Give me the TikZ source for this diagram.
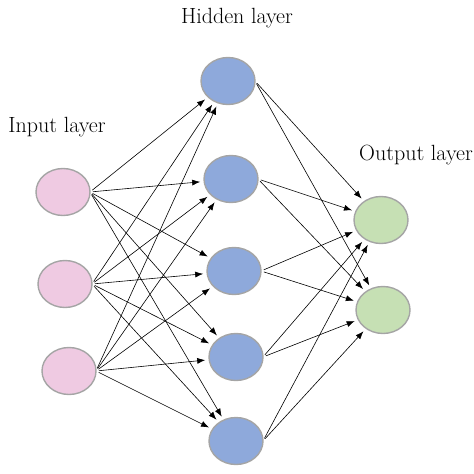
\documentclass[tikz,border=0pt]{standalone}
\usepackage{amsmath}
\usepackage{tkz-graph}
\usetikzlibrary{shapes.geometric,arrows.meta}

\definecolor{inpink}{RGB}{239,202,226}
\definecolor{hidblue}{RGB}{142,169,219}
\definecolor{outgreen}{RGB}{198,224,180}
\definecolor{rimgray}{RGB}{165,165,165}

\begin{document}
\begin{tikzpicture}[x=1pt,y=-1pt]
                \useasboundingbox (0,0) rectangle (474,474);
                \tikzset{LayerStyle/.style={font=\fontsize{22}{26}\selectfont}}
                \tikzset{EdgeStyle/.style={-{Latex[length=8pt,width=6pt]},line width=0.6pt,shorten <=3pt,shorten >=4pt}}
                \tikzset{VertexStyle/.style={shape=ellipse,draw=rimgray,line width=1.4pt,
                    minimum width=54pt,minimum height=47pt,inner sep=0pt}}
                % input layer
                \tikzset{VertexStyle/.append style={fill=inpink}}
                \Vertex[x=63, y=192, NoLabel]{I1}
                \Vertex[x=65, y=284, NoLabel]{I2}
                \Vertex[x=69, y=371, NoLabel]{I3}
                % hidden layer
                \tikzset{VertexStyle/.append style={fill=hidblue}}
                \Vertex[x=228, y=81, NoLabel]{H1}
                \Vertex[x=231, y=179, NoLabel]{H2}
                \Vertex[x=234, y=271, NoLabel]{H3}
                \Vertex[x=236, y=357, NoLabel]{H4}
                \Vertex[x=236, y=441, NoLabel]{H5}
                % output layer
                \tikzset{VertexStyle/.append style={fill=outgreen}}
                \Vertex[x=381, y=220, NoLabel]{O1}
                \Vertex[x=383, y=310, NoLabel]{O2}

                \node[LayerStyle] (inlabel) at (57,127) {Input layer};
                \node[LayerStyle] (hidlabel) at (237,18) {Hidden layer};
                \node[LayerStyle] (outlabel) at (416,155) {Output layer};

		\Edge(I1.east)(H1)
		\Edge(I1.east)(H2)
		\Edge(I1.east)(H3)
		\Edge(I1.east)(H4)
		\Edge(I1.east)(H5)
		\Edge(I2.east)(H1)
		\Edge(I2.east)(H2)
		\Edge(I2.east)(H3)
		\Edge(I2.east)(H4)
		\Edge(I2.east)(H5)
		\Edge(I3.east)(H1)
		\Edge(I3.east)(H2)
		\Edge(I3.east)(H3)
		\Edge(I3.east)(H4)
		\Edge(I3.east)(H5)
		\Edge(H1.east)(O1)
		\Edge(H1.east)(O2)
		\Edge(H2.east)(O1)
		\Edge(H2.east)(O2)
		\Edge(H3.east)(O1)
		\Edge(H3.east)(O2)
		\Edge(H4.east)(O1)
		\Edge(H4.east)(O2)
		\Edge(H5.east)(O1)
		\Edge(H5.east)(O2)

            \end{tikzpicture}
\end{document}
